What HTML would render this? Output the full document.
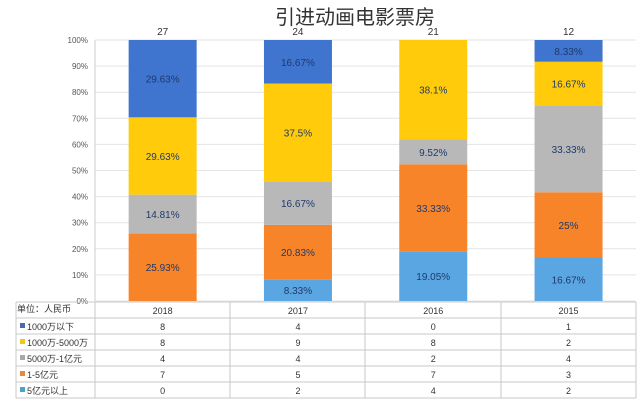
<!DOCTYPE html>
<html><head><meta charset="utf-8"><style>
body{margin:0;background:#fff;font-family:"Liberation Sans","Noto Sans CJK SC",sans-serif;}
svg text{font-family:"Liberation Sans","Noto Sans CJK SC",sans-serif;}
</style></head><body>
<svg id="c" width="644" height="404">
<text x="355" y="24" font-size="20" text-anchor="middle" fill="#333">引进动画电影票房</text>
</svg>
<script>
const categories=["2018","2017","2016","2015"];
const seriesNames=["1000万以下","1000万-5000万","5000万-1亿元","1-5亿元","5亿元以上"];
const sLow=[8,4,0,1];
const sMid=[8,9,8,2];
const sGray=[4,4,2,4];
const sOrange=[7,5,7,3];
const sTop=[0,2,4,2];
const yTicks=[0,10,20,30,40,50,60,70,80,90,100];
const series=[sLow,sMid,sGray,sOrange,sTop];
const colors=["#3f74cf","#ffcb0a","#b8b8b8","#f8842a","#5aa6e2"];
const legendColors=["#4a69b0","#f2c81a","#a8a8a8","#e8883a","#4aa3c8"];
const ns="http://www.w3.org/2000/svg";
const svg=document.getElementById('c');
const y0=301,y1=40,left=95,colW=135.3;
const yS=p=>y0-(y0-y1)*p/100;
const xC=i=>left+colW*(i+0.5);
function mk(t,a,txt){const e=document.createElementNS(ns,t);for(const k in a)e.setAttribute(k,a[k]);if(txt!==undefined)e.textContent=txt;svg.appendChild(e);return e;}
yTicks.forEach(t=>{
 const l=mk('line',{x1:left,x2:636,y1:yS(t),y2:yS(t),stroke:'#e4e4e4'});
 
 
 const tx=mk('text',{x:88,y:yS(t)+3,'font-size':8,'text-anchor':'end',fill:'#555'},t+'%');
 
 
});
mk('line',{x1:left,x2:left,y1:y1,y2:y0,stroke:'#ccc'});
const fmt=v=>{let s=v.toFixed(2);s=s.replace(/\.?0+$/,'');return s+'%';};
categories.forEach((c,i)=>{
 const tot=series.reduce((a,s)=>a+s[i],0);
 let acc=0;
 const bw=68,x=xC(i)-bw/2;
 for(let k=series.length-1;k>=0;k--){
  const v=series[k][i];const p=v/tot*100;
  if(v===0)continue;
  const yt=yS(acc+p),yb=yS(acc);
  const r=mk('rect',{x:x,y:yt,width:bw,height:yb-yt,fill:colors[k]});
  
  
  const t=mk('text',{x:xC(i),y:(yt+yb)/2+4,'font-size':10,'text-anchor':'middle',fill:'#1f3a6a'},fmt(p));
  
  
  acc+=p;
 }
 const tt=mk('text',{x:xC(i),y:35,'font-size':10,'text-anchor':'middle',fill:'#333'},tot);
 
 
});
// table
const rowY=[302,318,334,350,366,382,398];
const colX=[16,95,230,365,501,636];
rowY.forEach(y=>mk('line',{x1:16,x2:636,y1:y,y2:y,stroke:'#c8c8c8'}));
colX.forEach(x=>mk('line',{x1:x,x2:x,y1:302,y2:398,stroke:'#c8c8c8'}));
const u=mk('text',{x:17,y:312,'font-size':9,fill:'#333'},'单位：人民币');


categories.forEach((c,i)=>{
 const t=mk('text',{x:xC(i),y:314,'font-size':9,'text-anchor':'middle',fill:'#333'},c);
 
 
});
series.forEach((s,k)=>{
 const ry=rowY[k+1]+12;
 mk('rect',{x:20,y:ry-7,width:5,height:5,fill:legendColors[k]});
 const n=mk('text',{x:27,y:ry,'font-size':9,fill:'#333'},seriesNames[k]);
 
 
 s.forEach((v,i)=>{
  const t=mk('text',{x:xC(i),y:ry,'font-size':9,'text-anchor':'middle',fill:'#333'},v);
  
  
 });
});
</script>
</body></html>
